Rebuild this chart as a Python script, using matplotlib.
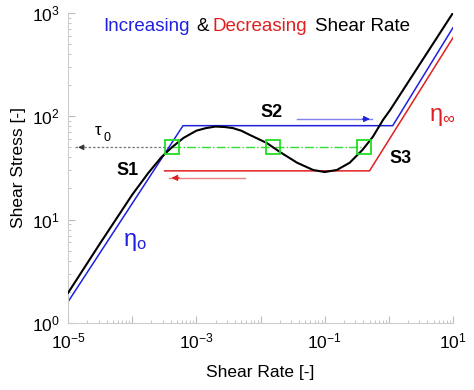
import matplotlib
matplotlib.use("Agg")
import matplotlib.pyplot as plt
import numpy as np
from matplotlib.ticker import LogLocator, NullFormatter

plt.rcParams['font.family'] = ['Liberation Sans', 'DejaVu Sans']
plt.rcParams['mathtext.default'] = 'regular'

# black flow curve as (log10 rate, log10 stress)
curve_lx = [-5.00, -4.50, -4.00, -3.75, -3.55, -3.38, -3.20, -3.00, -2.85, -2.70,
            -2.55, -2.43, -2.30, -2.17, -1.90, -1.70, -1.43, -1.18, -1.00, -0.81,
            -0.61, -0.41, -0.25, -0.09, 0.02, 1.00]
curve_ly = [0.29, 0.77, 1.24, 1.45, 1.60, 1.70, 1.79, 1.86, 1.885, 1.90,
            1.895, 1.885, 1.86, 1.82, 1.74, 1.655, 1.55, 1.48, 1.46, 1.48,
            1.55, 1.675, 1.80, 1.965, 2.06, 3.00]

# increasing shear rate path (blue)
up_rate = [1e-5, 6.2e-4, 1.15, 10]
up_stress = [1.6, 81, 81, 720]

# decreasing shear rate path (red)
down_rate = [3.2e-4, 0.5, 10]
down_stress = [29.6, 29.6, 575]

# equal-stress points (green squares)
tau0 = 50
sq_rate = [4.2e-4, 1.55e-2, 0.41]

x_ticks = [1e-5, 1e-4, 1e-3, 1e-2, 1e-1, 1e0, 1e1]
x_labels = ['$10^{-5}$', '', '$10^{-3}$', '', '$10^{-1}$', '', '$10^{1}$']
y_ticks = [1, 10, 100, 1000]
y_labels = ['$10^{0}$', '$10^{1}$', '$10^{2}$', '$10^{3}$']

fig = plt.figure(figsize=(4.74, 3.9), dpi=100)
ax = fig.add_axes([0.1435, 0.172, 0.8122, 0.795])
ax.set_xscale('log')
ax.set_yscale('log')
ax.set_xlim(1e-5, 10)
ax.set_ylim(1, 1000)

cx = 10 ** np.array(curve_lx)
cy = 10 ** np.array(curve_ly)

ax.plot(up_rate, up_stress, color='#2020e0', lw=1.1, zorder=2)
ax.plot(down_rate, down_stress, color='#e02020', lw=1.1, zorder=2)
ax.plot(cx, cy, color='black', lw=1.5, zorder=3)

# green dash-dot line and squares
ax.plot([sq_rate[0], sq_rate[-1]], [tau0, tau0], color='#33dd33', lw=1.0,
        linestyle='-.', zorder=2)
ax.plot(sq_rate, [tau0] * 3, linestyle='none', marker='s', ms=10, mfc='none',
        mec='#22dd22', mew=1.3, zorder=4)

# tau0 arrow to the stress axis
ax.plot([1.3e-5, sq_rate[0]], [tau0, tau0], color='#777777', lw=0.9,
        linestyle=(0, (2, 1.5)), zorder=1)
ax.annotate('', xy=(1.3e-5, tau0), xytext=(1.75e-5, tau0),
            arrowprops=dict(arrowstyle='-|>', color='#333333', lw=0.8,
                            mutation_scale=8))

# direction arrows
ax.plot([0.037, 0.55], [94, 94], color='#8080ee', lw=1.0)
ax.annotate('', xy=(0.56, 94), xytext=(0.35, 94),
            arrowprops=dict(arrowstyle='-|>', color='#2020e0', lw=0.8,
                            mutation_scale=9))
ax.plot([5.7e-3, 3.8e-4], [25.3, 25.3], color='#ee8080', lw=1.0)
ax.annotate('', xy=(3.7e-4, 25.3), xytext=(6e-4, 25.3),
            arrowprops=dict(arrowstyle='-|>', color='#e02020', lw=0.8,
                            mutation_scale=9))

# labels
ax.text(8.5e-5, 30, 'S1', fontsize=13, fontweight='bold', ha='center', va='center')
ax.text(1.5e-2, 108, 'S2', fontsize=13, fontweight='bold', ha='center', va='center')
ax.text(1.5, 39, 'S3', fontsize=13, fontweight='bold', ha='center', va='center')
ax.text(3.0e-5, 72, r'$\tau$', fontsize=12, ha='center', va='center')
ax.text(4.0e-5, 62, '0', fontsize=9, ha='center', va='center')
ax.text(1.1e-4, 6.0, r'$\eta_{o}$', fontsize=17, color='#2020e0', ha='center',
        va='center')
ax.text(6.8, 98, r'$\eta_{\infty}$', fontsize=17, color='#e02020', ha='center',
        va='center')

fig.text(0.217, 0.933, 'Increasing', color='#2020e0', fontsize=13.5, va='center')
fig.text(0.414, 0.933, '&', color='black', fontsize=13.5, va='center')
fig.text(0.449, 0.933, 'Decreasing', color='#e02020', fontsize=13.5, va='center')
fig.text(0.664, 0.933, 'Shear Rate', color='black', fontsize=13.5, va='center')

ax.set_xlabel('Shear Rate [-]', fontsize=12.5, labelpad=10)
ax.set_ylabel('Shear Stress [-]', fontsize=12.5, labelpad=4)

ax.set_xticks(x_ticks)
ax.set_xticklabels(x_labels, fontsize=12.5)
ax.set_yticks(y_ticks)
ax.set_yticklabels(y_labels, fontsize=12.5)
ax.xaxis.set_minor_locator(LogLocator(base=10, subs=np.arange(2, 10)))
ax.yaxis.set_minor_locator(LogLocator(base=10, subs=np.arange(2, 10)))
ax.xaxis.set_minor_formatter(NullFormatter())
ax.yaxis.set_minor_formatter(NullFormatter())
ax.tick_params(which='major', direction='in', length=5, color='#bbbbbb', pad=6)
ax.tick_params(which='minor', direction='in', length=2.5, color='#bbbbbb')

for s in ['top', 'right']:
    ax.spines[s].set_visible(False)
for s in ['left', 'bottom']:
    ax.spines[s].set_color('#cccccc')

fig.savefig('out.png', dpi=100)
